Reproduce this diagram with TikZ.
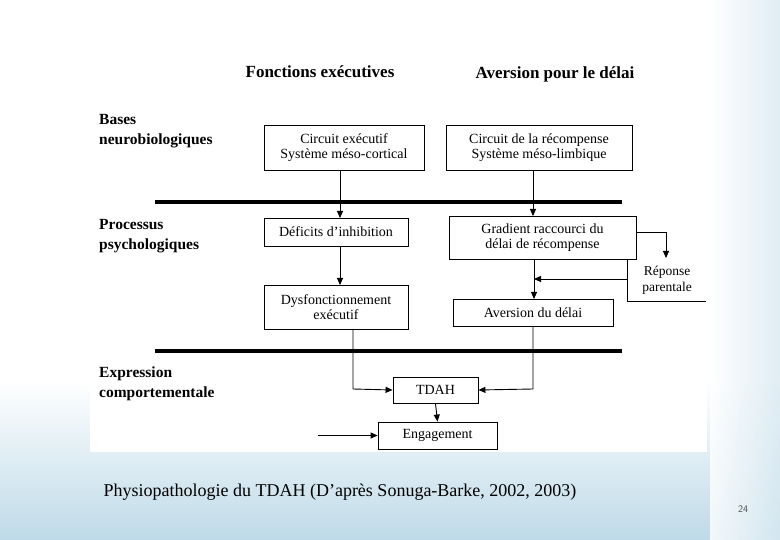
\documentclass[tikz,border=0pt]{standalone}
\usepackage{fontspec}
\setmainfont{Liberation Serif}
\usetikzlibrary{arrows.meta}
\begin{document}
\begin{tikzpicture}[x=1pt,y=-1pt,line join=miter,
  bx/.style={draw,line width=0.9pt,align=center,font=\fontsize{14}{15.5}\selectfont,inner sep=0pt},
  hd/.style={font=\bfseries\fontsize{15.5}{20}\selectfont,align=left,anchor=north west,inner sep=0pt},
  ar/.style={-{Triangle[length=7pt,width=6pt]},line width=0.9pt},
  bar/.style={line width=3.5pt}]
\useasboundingbox (0,0) rectangle (780,540);
\definecolor{bgb}{RGB}{190,218,232}
\fill[white] (0,0) rectangle (780,540);
\shade[top color=white,bottom color=bgb] (0,380) rectangle (780,540);
\shade[left color=white,right color=bgb!60,opacity=0.8] (710,0) rectangle (780,540);
\fill[white] (90,30) rectangle (707,452);
\node[font=\bfseries\fontsize{17}{19}\selectfont] (t1) at (320,72) {Fonctions exécutives};
\node[font=\bfseries\fontsize{17}{19}\selectfont] (t2) at (555,74) {Aversion pour le délai};
\node[hd] (h1) at (99,114) {Bases\\neurobiologiques};
\node[hd] (h2) at (99,219) {Processus\\psychologiques};
\node[hd] (h3) at (99,367) {Expression\\comportementale};
\node[bx,minimum width=160,minimum height=45] (b1) at (344,147.5) {Circuit exécutif\\Système méso-cortical};
\node[bx,minimum width=186,minimum height=45] (b2) at (539,147.5) {Circuit de la récompense\\Système méso-limbique};
\node[bx,minimum width=144,minimum height=28] (b3) at (336,232) {Déficits d’inhibition};
\node[bx,minimum width=187,minimum height=43] (b4) at (542.5,237.5) {Gradient raccourci du\\délai de récompense};
\node[bx,minimum width=144,minimum height=44] (b5) at (336,307) {Dysfonctionnement\\exécutif};
\node[bx,minimum width=160,minimum height=27] (b6) at (533,312.5) {Aversion du délai};
\node[bx,minimum width=85,minimum height=26] (td) at (435.5,390) {TDAH};
\node[bx,minimum width=119,minimum height=27] (en) at (437.5,435.5) {Engagement};
\node[align=center,font=\fontsize{13.5}{16}\selectfont] (rp) at (667,280) {Réponse\\parentale};
\draw[bar] (155,202) coordinate (l1a) -- (622,202) coordinate (l1b);
\draw[bar] (155,351) coordinate (l2a) -- (622,351) coordinate (l2b);
\draw[line width=0.9pt] (627,260) coordinate (rc1) -- (627,301) -- (706,301);
\draw[ar] (340,170) -- (340,218);
\draw[ar] (533,170) -- (533,216);
\draw[ar] (340,246) -- (340,285);
\draw[ar] (534,259) -- (534,299);
\draw[ar] (636,232) -- (666,232) -- (666,258);
\draw[ar] (627,279) -- (534,279);
\draw[ar] (353,329) -- (353,389) -- (td.west);
\draw[ar] (533,326) -- (533,389) -- (td.east);
\draw[ar] (td.south) -- (en.north);
\draw[ar] (318,435.5) coordinate (fe) -- (en.west);
\node[anchor=west,font=\fontsize{18}{20}\selectfont] (cap) at (100,492) {Physiopathologie du TDAH (D’après Sonuga-Barke, 2002, 2003)};
\node[font=\sffamily\fontsize{10}{12}\selectfont,text=black!70] (pg) at (743,509) {24};
\end{tikzpicture}
\end{document}
